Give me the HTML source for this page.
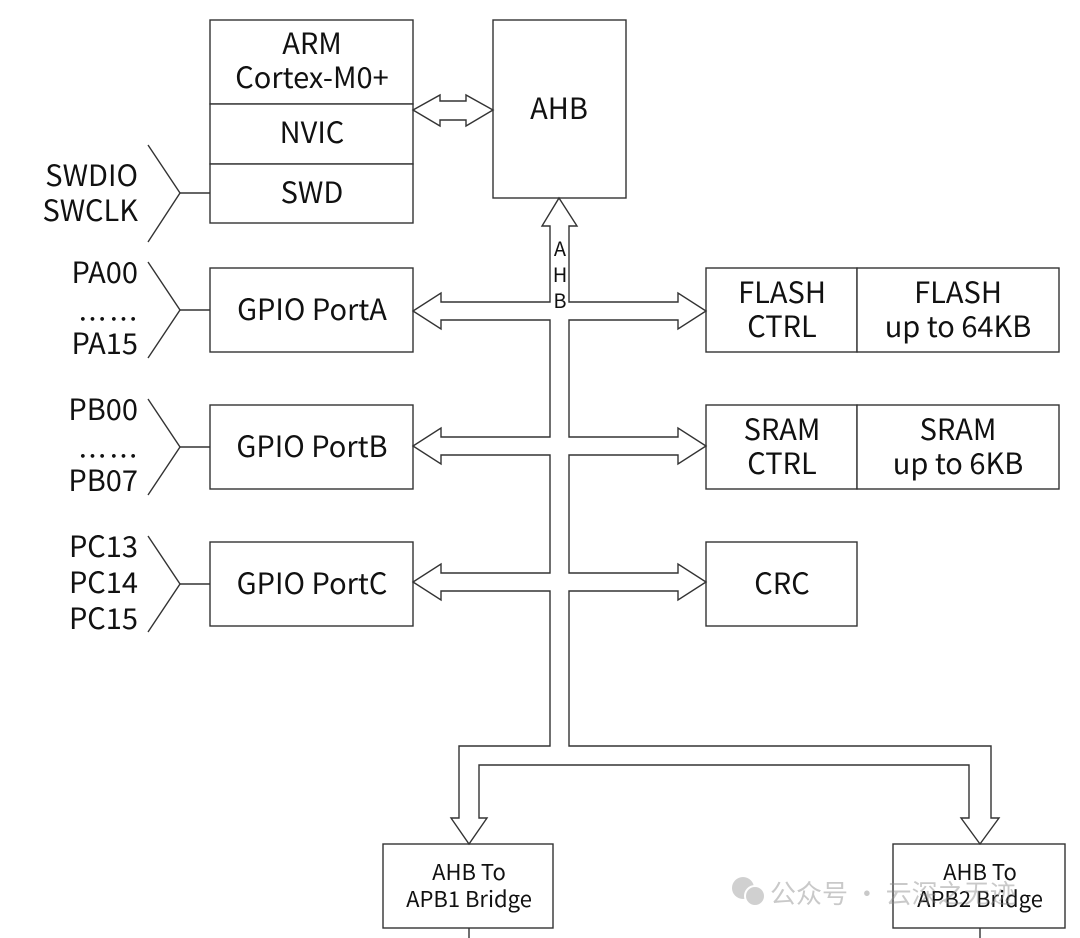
<!DOCTYPE html>
<html><head><meta charset="utf-8"><style>
html,body{margin:0;padding:0;background:#fff;}
svg{display:block;}
text{font-family:"Noto Sans CJK SC","Liberation Sans",sans-serif;fill:#111;}
</style></head><body>
<svg width="1080" height="938" viewBox="0 0 1080 938" xmlns="http://www.w3.org/2000/svg">
<g fill="#fff" stroke="#333" stroke-width="1.4">
<rect x="210" y="20" width="203" height="84"/>
<rect x="210" y="104" width="203" height="60"/>
<rect x="210" y="164" width="203" height="59"/>
<rect x="493" y="20" width="133" height="178"/>
<rect x="210" y="268" width="203" height="84"/>
<rect x="210" y="405" width="203" height="84"/>
<rect x="210" y="542" width="203" height="84"/>
<rect x="706" y="268" width="151" height="84"/>
<rect x="857" y="268" width="202" height="84"/>
<rect x="706" y="405" width="151" height="84"/>
<rect x="857" y="405" width="202" height="84"/>
<rect x="706" y="542" width="151" height="84"/>
<rect x="383" y="844" width="170" height="84"/>
<rect x="893" y="844" width="172" height="84"/>
<polygon points="413,110 440,95 440,101 466,101 466,95 493,110 466,126 466,120 440,120 440,126"/>
<polygon points="559,198 577,226 569,226 569,302 678,302 678,293 706,311 678,329 678,320 569,320 569,437 678,437 678,428 706,446 678,464 678,455 569,455 569,573 678,573 678,564 706,582 678,600 678,591 569,591 569,746 991,746 991,818 999,818 980,844 961,818 969,818 969,765 479,765 479,818 487,818 469,844 451,818 459,818 459,746 550,746 550,591 441,591 441,600 413,582 441,564 441,573 550,573 550,455 441,455 441,464 413,446 441,428 441,437 550,437 550,320 441,320 441,329 413,311 441,293 441,302 550,302 550,226 542,226"/>
<line x1="469" y1="928" x2="469" y2="938"/><line x1="980" y1="928" x2="980" y2="938"/>
</g>
<g fill="none" stroke="#333" stroke-width="1.4">
<polyline points="148,145 180,193 148,242"/><line x1="180" y1="193" x2="210" y2="193"/>
<polyline points="148,262 180,310 148,358"/><line x1="180" y1="310" x2="210" y2="310"/>
<polyline points="148,399 180,447 148,495"/><line x1="180" y1="447" x2="210" y2="447"/>
<polyline points="148,536 180,584 148,632"/><line x1="180" y1="584" x2="210" y2="584"/>
</g>
<g font-size="29" text-anchor="middle">
<text x="312" y="54">ARM</text><text x="312" y="88">Cortex-M0+</text>
<text x="312" y="143">NVIC</text><text x="312" y="203">SWD</text>
<text x="559" y="119">AHB</text>
<text x="312" y="320">GPIO PortA</text><text x="312" y="457">GPIO PortB</text><text x="312" y="594">GPIO PortC</text>
<text x="782" y="303">FLASH</text><text x="782" y="337">CTRL</text>
<text x="958" y="303">FLASH</text><text x="958" y="337">up to 64KB</text>
<text x="782" y="440">SRAM</text><text x="782" y="474">CTRL</text>
<text x="958" y="440">SRAM</text><text x="958" y="474">up to 6KB</text>
<text x="782" y="594">CRC</text>
</g>
<g font-size="29" text-anchor="end">
<text x="138" y="186">SWDIO</text><text x="138" y="221">SWCLK</text>
<text x="138" y="283">PA00</text><text x="140" y="330" letter-spacing="2">……</text><text x="138" y="354">PA15</text>
<text x="138" y="420">PB00</text><text x="140" y="467" letter-spacing="2">……</text><text x="138" y="491">PB07</text>
<text x="138" y="557">PC13</text><text x="138" y="593">PC14</text><text x="138" y="629">PC15</text>
</g>
<g font-size="20" text-anchor="middle">
<text x="560" y="256">A</text><text x="560" y="282">H</text><text x="560" y="308">B</text>
</g>
<g font-size="22" text-anchor="middle">
<text x="469" y="880">AHB To</text><text x="469" y="907">APB1 Bridge</text>
<text x="980" y="880">AHB To</text><text x="980" y="907">APB2 Bridge</text>
</g>
<g opacity="0.45">
<circle cx="743" cy="888" r="11" fill="#999"/><circle cx="755" cy="896" r="10" fill="#999" stroke="#fff" stroke-width="2"/>
<text x="770" y="903" font-size="26" style="fill:#888">公众号 · 云深之无迹</text>
</g>
</svg>
</body></html>
